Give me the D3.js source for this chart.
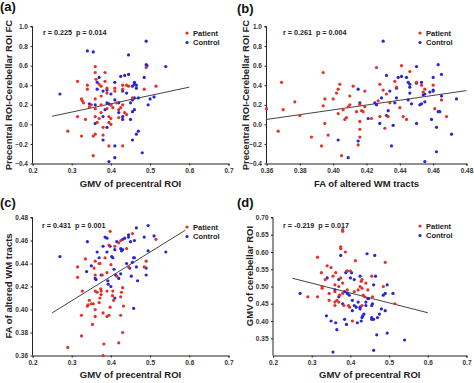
<!DOCTYPE html>
<html>
<head>
<meta charset="utf-8">
<script src="https://cdn.jsdelivr.net/npm/d3@7"></script>
<style>
  html, body { margin: 0; padding: 0; background: #fff; }
  svg { display: block; font-family: "Liberation Sans", Arial, sans-serif; font-weight: bold; }
</style>
</head>
<body>
<svg width="474" height="383"></svg>
<script>
// tick values
var gmvPreTicks = [0.2, 0.3, 0.4, 0.5, 0.6, 0.7];
var fcTicks = [-0.4, -0.2, 0.0, 0.2, 0.4, 0.6, 0.8, 1.0];
var faTicks = [0.36, 0.38, 0.40, 0.42, 0.44, 0.46, 0.48];
var gmvCerTicks = [0.35, 0.40, 0.45, 0.50, 0.55, 0.60, 0.65, 0.70];

// (a) GMV precentral vs FC
var aPatient = [[0.29,-0.07],[0.315,0.44],[0.315,0.08],[0.325,0.26],[0.327,0.24],[0.33,0.22],[0.325,-0.12],
  [0.335,0.05],[0.34,0.40],[0.34,0.36],[0.345,0.18],[0.355,-0.32],[0.355,-0.12],[0.36,-0.10],[0.36,0.59],
  [0.36,0.53],[0.362,0.46],[0.36,0.26],[0.36,0.16],[0.36,0.08],[0.365,0.02],[0.37,0.41],[0.375,0.39],
  [0.375,0.29],[0.375,0.20],[0.375,0.12],[0.37,0.06],[0.38,-0.03],[0.38,-0.11],[0.385,0.53],[0.385,0.44],
  [0.39,0.37],[0.39,0.32],[0.39,0.16],[0.395,0.08],[0.40,0.06],[0.395,0.02],[0.395,-0.22],[0.40,0.20],
  [0.405,0.17],[0.41,0.37],[0.41,0.34],[0.415,0.22],[0.42,0.15],[0.43,0.36],[0.43,0.40],[0.425,0.17],
  [0.43,0.20],[0.435,0.12],[0.44,0.10],[0.43,-0.22],[0.44,0.40],[0.445,0.39],[0.455,0.27],[0.49,0.58],
  [0.485,0.36],[0.515,0.39],[0.42,0.07],[0.35,0.20],[0.40,0.00]];
var aControl = [[0.27,0.31],[0.34,0.75],[0.355,0.74],[0.445,0.71],[0.49,0.85],[0.49,0.61],[0.492,0.60],
  [0.54,0.59],[0.37,0.48],[0.365,0.43],[0.41,0.43],[0.425,0.49],[0.435,0.50],[0.445,0.51],[0.485,0.48],
  [0.46,0.43],[0.46,0.41],[0.465,0.40],[0.455,0.39],[0.465,0.37],[0.38,0.34],[0.39,0.35],[0.40,0.31],
  [0.43,0.34],[0.44,0.32],[0.39,0.22],[0.395,0.21],[0.41,0.25],[0.40,0.20],[0.36,0.20],[0.345,0.21],
  [0.365,0.36],[0.42,0.22],[0.45,0.22],[0.455,0.25],[0.46,0.27],[0.47,0.27],[0.50,0.26],[0.51,0.28],
  [0.495,0.20],[0.455,0.13],[0.46,0.15],[0.43,0.08],[0.43,0.05],[0.36,0.01],[0.38,0.08],[0.39,-0.03],
  [0.47,-0.07],[0.465,-0.10],[0.455,-0.16],[0.38,-0.16],[0.41,-0.22],[0.41,-0.34],[0.395,-0.38],
  [0.48,-0.29],[0.385,0.15],[0.42,0.12],[0.45,0.05]];
var aFit = [[0.25, 0.083], [0.60, 0.38]];

// (b) FA vs FC
var bPatient = [[0.36,0.16],[0.367,-0.07],[0.369,0.43],[0.37,0.15],[0.377,0.23],[0.38,0.09],[0.387,-0.13],
  [0.394,0.53],[0.393,-0.22],[0.395,0.26],[0.394,0.19],[0.395,0.01],[0.397,-0.11],[0.40,0.26],[0.402,0.32],
  [0.403,0.36],[0.404,0.41],[0.403,0.11],[0.405,-0.32],[0.406,0.15],[0.407,0.05],[0.408,0.07],[0.41,0.29],
  [0.41,0.20],[0.409,0.18],[0.412,0.39],[0.414,0.13],[0.416,0.20],[0.417,0.14],[0.418,0.13],[0.416,-0.05],
  [0.416,-0.13],[0.415,-0.21],[0.416,0.03],[0.419,0.34],[0.419,0.18],[0.423,0.06],[0.426,0.58],[0.427,0.24],
  [0.428,0.41],[0.43,0.35],[0.432,0.31],[0.428,0.08],[0.431,-0.04],[0.433,0.08],[0.434,0.22],[0.437,0.44],
  [0.438,0.38],[0.44,0.17],[0.441,0.60],[0.442,0.08],[0.444,0.05],[0.446,0.54],[0.45,0.43],[0.453,0.40],
  [0.454,0.33],[0.455,0.36],[0.46,0.40],[0.461,0.16],[0.465,0.25],[0.468,0.08]];
var bControl = [[0.403,-0.16],[0.409,-0.34],[0.415,0.36],[0.416,0.22],[0.415,-0.17],[0.421,0.06],[0.425,0.22],
  [0.426,0.20],[0.428,0.01],[0.429,0.27],[0.43,0.85],[0.432,0.50],[0.432,0.09],[0.433,0.14],[0.434,0.34],
  [0.435,-0.22],[0.436,-0.01],[0.437,0.22],[0.438,0.27],[0.438,0.37],[0.439,0.48],[0.441,0.49],[0.444,0.48],
  [0.445,0.43],[0.446,0.41],[0.446,0.38],[0.445,0.25],[0.446,0.32],[0.447,0.21],[0.45,0.42],[0.450,0.59],
  [0.45,0.01],[0.452,0.20],[0.453,0.21],[0.453,0.43],[0.454,0.30],[0.455,0.31],[0.455,0.23],[0.455,-0.38],
  [0.458,0.33],[0.46,0.48],[0.46,0.35],[0.46,0.34],[0.462,-0.03],[0.462,-0.28],[0.463,0.61],[0.463,0.13],
  [0.464,0.13],[0.465,0.51],[0.465,0.29],[0.459,0.05],[0.471,-0.10],[0.474,0.26]];
var bFit = [[0.36, 0.05], [0.48, 0.345]];

// (c) GMV precentral vs FA
var cPatient = [[0.29,0.367],[0.315,0.437],[0.315,0.428],[0.325,0.395],[0.325,0.377],[0.327,0.416],
  [0.335,0.444],[0.34,0.403],[0.342,0.404],[0.345,0.408],[0.35,0.405],[0.353,0.387],[0.355,0.405],
  [0.357,0.436],[0.36,0.442],[0.36,0.43],[0.36,0.416],[0.36,0.40],[0.36,0.394],[0.365,0.415],[0.37,0.44],
  [0.372,0.44],[0.37,0.406],[0.372,0.41],[0.374,0.418],[0.375,0.416],[0.375,0.413],[0.378,0.43],
  [0.38,0.397],[0.382,0.37],[0.38,0.36],[0.385,0.445],[0.39,0.432],[0.39,0.416],[0.39,0.394],[0.395,0.395],
  [0.395,0.456],[0.398,0.468],[0.398,0.402],[0.40,0.439],[0.404,0.412],[0.405,0.416],[0.407,0.408],
  [0.41,0.455],[0.415,0.429],[0.42,0.458],[0.42,0.371],[0.425,0.46],[0.425,0.411],[0.427,0.415],
  [0.425,0.395],[0.43,0.419],[0.432,0.403],[0.43,0.38],[0.44,0.453],[0.445,0.437],[0.455,0.466],
  [0.485,0.437],[0.49,0.442],[0.515,0.461]];
var cControl = [[0.27,0.446],[0.34,0.459],[0.338,0.433],[0.35,0.438],[0.36,0.427],[0.362,0.426],[0.365,0.45],
  [0.37,0.445],[0.375,0.43],[0.38,0.455],[0.385,0.463],[0.39,0.462],[0.39,0.45],[0.392,0.425],[0.393,0.422],
  [0.398,0.455],[0.40,0.42],[0.402,0.446],[0.405,0.445],[0.408,0.435],[0.41,0.41],[0.412,0.43],[0.415,0.459],
  [0.42,0.427],[0.425,0.431],[0.425,0.453],[0.427,0.451],[0.43,0.461],[0.435,0.462],[0.44,0.44],
  [0.445,0.463],[0.445,0.465],[0.448,0.436],[0.45,0.459],[0.452,0.429],[0.455,0.441],[0.458,0.445],
  [0.46,0.445],[0.46,0.46],[0.458,0.401],[0.465,0.471],[0.465,0.437],[0.468,0.425],[0.485,0.463],
  [0.49,0.436],[0.49,0.43],[0.495,0.473],[0.495,0.451],[0.51,0.464],[0.54,0.45],[0.41,0.452],[0.43,0.452]];
var cFit = [[0.25, 0.397], [0.59, 0.469]];

// (d) GMV precentral vs GMV cerebellar
var dPatient = [[0.29,0.47],[0.315,0.585],[0.315,0.47],[0.325,0.54],[0.327,0.50],[0.327,0.495],[0.335,0.52],
  [0.34,0.56],[0.345,0.48],[0.345,0.46],[0.35,0.555],[0.355,0.53],[0.36,0.505],[0.36,0.485],[0.36,0.455],
  [0.36,0.445],[0.362,0.54],[0.365,0.46],[0.37,0.50],[0.37,0.455],[0.372,0.475],[0.375,0.525],[0.375,0.61],
  [0.375,0.615],[0.38,0.66],[0.38,0.665],[0.38,0.51],[0.38,0.48],[0.383,0.445],[0.387,0.60],[0.39,0.545],
  [0.392,0.49],[0.395,0.445],[0.398,0.44],[0.40,0.545],[0.405,0.40],[0.41,0.485],[0.413,0.575],[0.42,0.49],
  [0.425,0.50],[0.428,0.515],[0.43,0.52],[0.43,0.495],[0.433,0.475],[0.43,0.445],[0.437,0.47],[0.44,0.51],
  [0.445,0.49],[0.455,0.53],[0.457,0.47],[0.485,0.50],[0.49,0.57],[0.515,0.45]];
var dControl = [[0.27,0.48],[0.338,0.415],[0.34,0.525],[0.35,0.40],[0.355,0.31],[0.36,0.49],[0.362,0.395],
  [0.365,0.375],[0.37,0.47],[0.37,0.52],[0.375,0.59],[0.38,0.45],[0.385,0.405],[0.385,0.485],[0.388,0.54],
  [0.392,0.545],[0.39,0.39],[0.392,0.48],[0.397,0.475],[0.40,0.525],[0.403,0.54],[0.405,0.46],[0.405,0.43],
  [0.41,0.445],[0.41,0.52],[0.415,0.44],[0.418,0.395],[0.42,0.455],[0.425,0.53],[0.425,0.435],[0.425,0.44],
  [0.428,0.40],[0.43,0.41],[0.432,0.415],[0.435,0.42],[0.44,0.445],[0.44,0.455],[0.443,0.595],[0.445,0.465],
  [0.447,0.465],[0.455,0.41],[0.455,0.405],[0.455,0.445],[0.457,0.45],[0.46,0.505],[0.46,0.405],[0.46,0.315],
  [0.463,0.59],[0.465,0.53],[0.468,0.36],[0.47,0.41],[0.475,0.42],[0.48,0.435],[0.485,0.475],[0.49,0.48],
  [0.49,0.43],[0.495,0.505],[0.495,0.365],[0.51,0.48],[0.54,0.345]];
var dFit = [[0.25, 0.524], [0.60, 0.424]];

var seriesNames = ['Patient', 'Control'];
var colors = { Patient: '#e5302a', Control: '#2626d4' };

var panels = [
  { label: '(a)', labelPos: [0, 11],
    xDomain: [0.2, 0.7], xRange: [32.5, 228.5], xTicks: gmvPreTicks, xFmt: '.1f',
    yDomain: [-0.4, 1.0], yRange: [163.5, 26.5], yTicks: fcTicks, yFmt: '.1f',
    xTitle: 'GMV of precentral ROI', yTitle: 'Precentral ROI-Cerebellar ROI FC', yTitleX: 9, yTitleY: 95, xTitleY: 187,
    stat: 'r = 0.225  p = 0.014', statPos: [43, 35], legendPos: [187, 33],
    patient: aPatient, control: aControl, fit: aFit },
  { label: '(b)', labelPos: [237, 13],
    xDomain: [0.36, 0.48], xRange: [266.5, 466.5], xTicks: faTicks, xFmt: '.2f',
    yDomain: [-0.4, 1.0], yRange: [163.5, 26.5], yTicks: fcTicks, yFmt: '.1f',
    xTitle: 'FA of altered WM tracts', yTitle: 'Precentral ROI-Cerebellar ROI FC', yTitleX: 246, yTitleY: 95, xTitleY: 187,
    stat: 'r = 0.261  p = 0.004', statPos: [283, 35], legendPos: [420, 33],
    patient: bPatient, control: bControl, fit: bFit },
  { label: '(c)', labelPos: [0, 207],
    xDomain: [0.2, 0.7], xRange: [32.5, 228.5], xTicks: gmvPreTicks, xFmt: '.1f',
    yDomain: [0.36, 0.48], yRange: [355.5, 217.5], yTicks: faTicks, yFmt: '.2f',
    xTitle: 'GMV of precentral ROI', yTitle: 'FA of altered WM tracts', yTitleX: 9, yTitleY: 286, xTitleY: 378,
    stat: 'r = 0.431  p = 0.001', statPos: [42, 228], legendPos: [187, 227],
    patient: cPatient, control: cControl, fit: cFit },
  { label: '(d)', labelPos: [237, 207],
    xDomain: [0.2, 0.7], xRange: [273, 466.5], xTicks: gmvPreTicks, xFmt: '.1f',
    yDomain: [0.30, 0.70], yRange: [355.5, 217.5], yTicks: gmvCerTicks, yFmt: '.2f',
    xTitle: 'GMV of precentral ROI', yTitle: 'GMV of cerebellar ROI', yTitleX: 250, yTitleY: 276, xTitleY: 378,
    stat: 'r = -0.219  p = 0.017', statPos: [283, 228], legendPos: [420, 226],
    patient: dPatient, control: dControl, fit: dFit }
];

var svg = d3.select('svg');

panels.forEach(function(p) {
  var x = d3.scaleLinear().domain(p.xDomain).range(p.xRange);
  var y = d3.scaleLinear().domain(p.yDomain).range(p.yRange);
  var g = svg.append('g');

  g.append('text')
    .attr('x', p.labelPos[0]).attr('y', p.labelPos[1])
    .attr('font-size', 13).attr('fill', '#111')
    .text(p.label);

  var xAxis = g.append('g')
    .attr('transform', 'translate(0,' + p.yRange[0] + ')')
    .call(d3.axisBottom(x).tickValues(p.xTicks).tickFormat(d3.format(p.xFmt)).tickSize(2).tickPadding(3));
  var yAxis = g.append('g')
    .attr('transform', 'translate(' + p.xRange[0] + ',0)')
    .call(d3.axisLeft(y).tickValues(p.yTicks).tickFormat(d3.format(p.yFmt)).tickSize(2).tickPadding(2.5));

  [xAxis, yAxis].forEach(function(ax) {
    ax.select('.domain').attr('stroke', '#222').attr('stroke-width', 1);
    ax.selectAll('.tick line').attr('stroke', '#222');
    ax.selectAll('.tick text').attr('font-size', 6.5).attr('font-family', 'Liberation Sans, Arial, sans-serif')
      .attr('font-weight', 'bold').attr('fill', '#333');
  });
  // y axis line spans full range even where bottom tick is unlabeled
  yAxis.select('.domain').attr('d', 'M-2,' + p.yRange[1] + 'H0V' + p.yRange[0]);

  g.append('text')
    .attr('x', (p.xRange[0] + p.xRange[1]) / 2).attr('y', p.xTitleY)
    .attr('text-anchor', 'middle').attr('font-size', 9.5).attr('fill', '#222')
    .text(p.xTitle);

  g.append('text')
    .attr('transform', 'translate(' + p.yTitleX + ',' + p.yTitleY + ') rotate(-90)')
    .attr('text-anchor', 'middle').attr('dy', '0.35em').attr('font-size', 9.5).attr('fill', '#222')
    .text(p.yTitle);

  var line = d3.line().x(function(d) { return x(d[0]); }).y(function(d) { return y(d[1]); });
  g.append('path')
    .attr('d', line(p.fit))
    .attr('fill', 'none').attr('stroke', '#444').attr('stroke-width', 1);

  [['Control', p.control], ['Patient', p.patient]].forEach(function(s) {
    g.append('g').selectAll('circle')
      .data(s[1])
      .enter().append('circle')
      .attr('cx', function(d) { return x(d[0]); })
      .attr('cy', function(d) { return y(d[1]); })
      .attr('r', 1.6)
      .attr('fill', colors[s[0]]);
  });

  g.append('text')
    .attr('x', p.statPos[0]).attr('y', p.statPos[1])
    .attr('font-size', 7.2).attr('fill', '#222').style('white-space', 'pre')
    .text(p.stat);

  var leg = g.append('g').attr('transform', 'translate(' + p.legendPos[0] + ',' + p.legendPos[1] + ')');
  seriesNames.forEach(function(name, i) {
    leg.append('circle').attr('cx', 0).attr('cy', i * 9.5).attr('r', 1.6).attr('fill', colors[name]);
    leg.append('text').attr('x', 6).attr('y', i * 9.5).attr('dy', '0.35em')
      .attr('font-size', 7.5).attr('fill', '#222').text(name);
  });
});
</script>
</body>
</html>
